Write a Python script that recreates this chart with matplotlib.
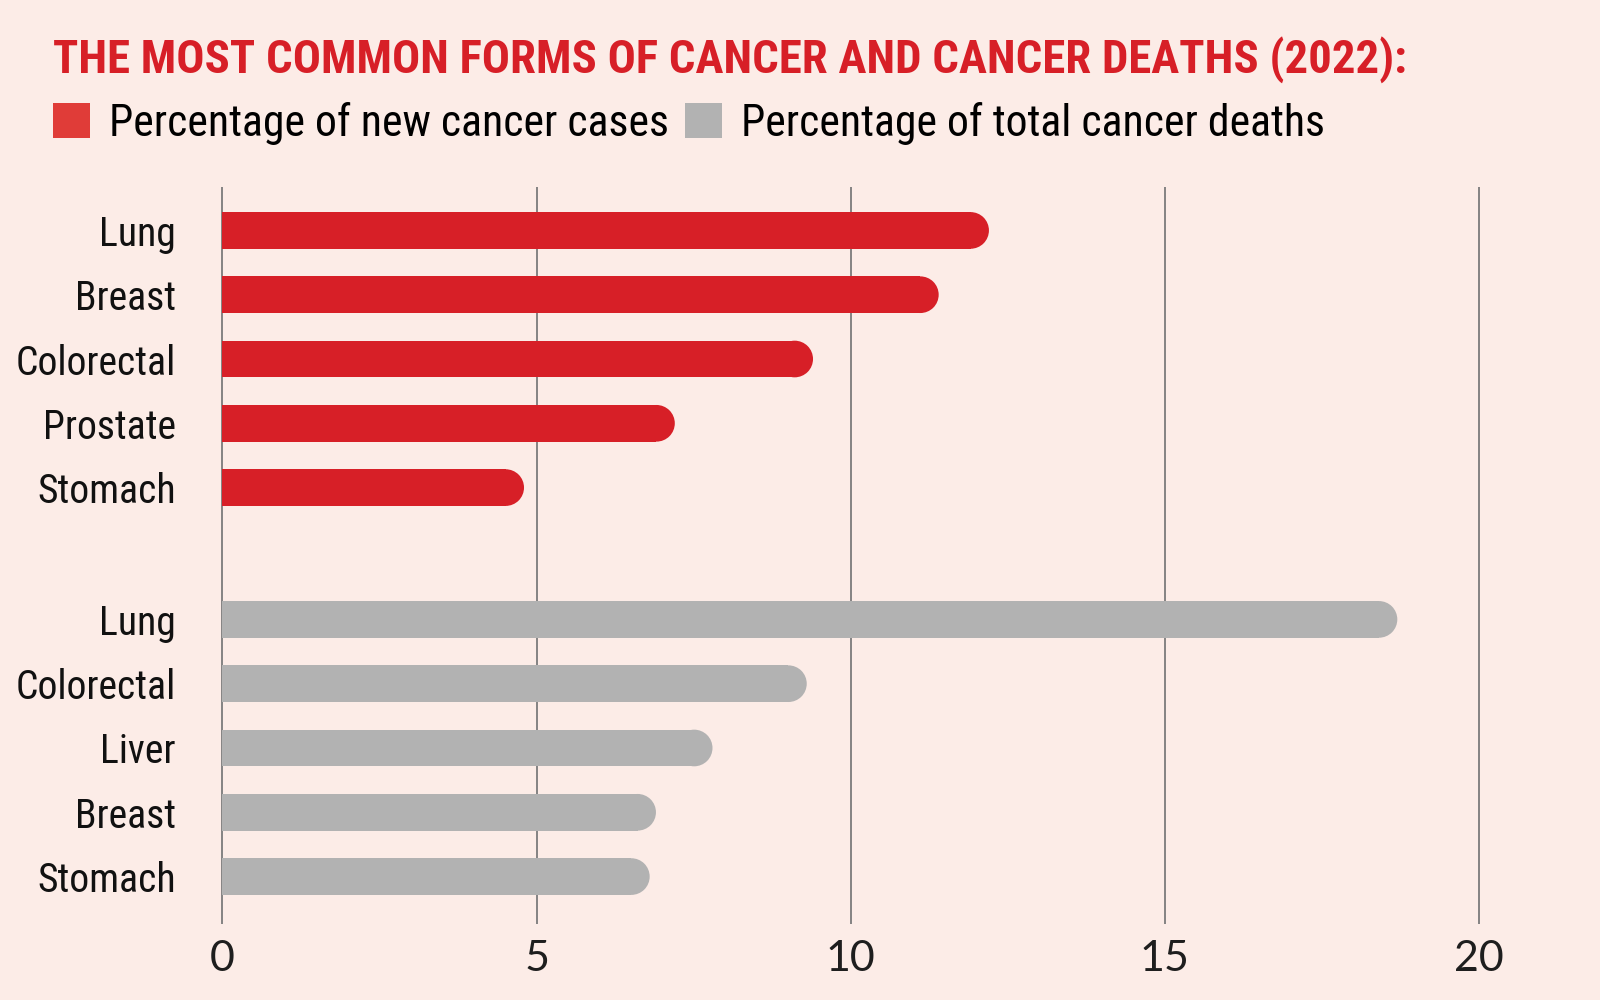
#!/usr/bin/env python3
"""Most common forms of cancer and cancer deaths (2022) - horizontal rounded bars."""

import os
import numpy as np
import matplotlib
matplotlib.use("Agg")
import matplotlib.pyplot as plt
from matplotlib import font_manager as fm
from matplotlib.patches import Ellipse, Patch

# --- data ---
CASES_LABELS = ["Lung", "Breast", "Colorectal", "Prostate", "Stomach"]
CASES_PCT = [12.2, 11.4, 9.4, 7.2, 4.8]

DEATHS_LABELS = ["Lung", "Colorectal", "Liver", "Breast", "Stomach"]
DEATHS_PCT = [18.7, 9.3, 7.8, 6.9, 6.8]

X_TICKS = [0, 5, 10, 15, 20]

TITLE = "THE MOST COMMON FORMS OF CANCER AND CANCER DEATHS (2022):"
LEGEND_LABELS = ["Percentage of new cancer cases", "Percentage of total cancer deaths"]

C_BG = "#fcece7"
C_RED = "#d71f27"
C_RED_LEG = "#e03c38"
C_GRAY = "#b2b2b2"
C_GRID = "#7b7b7b"


def pick_font(candidates, fallback_weight):
    """Use a narrow face if one is installed, else plain DejaVu Sans."""
    files = {os.path.basename(f.fname).lower(): f.fname for f in fm.fontManager.ttflist}
    for c in candidates:
        if c in files:
            return fm.FontProperties(fname=files[c])
    return fm.FontProperties(family="DejaVu Sans", weight=fallback_weight)


FP_REG = pick_font(
    ["notosans-extracondensed.ttf", "robotocondensed-regular.ttf",
     "notosans-condensed.ttf", "liberationsansnarrow-regular.ttf",
     "dejavusanscondensed.ttf"], "normal")
FP_BOLD = pick_font(
    ["notosans-extracondensedbold.ttf", "robotocondensed-bold.ttf",
     "notosans-condensedbold.ttf", "liberationsansnarrow-bold.ttf",
     "dejavusanscondensed-bold.ttf"], "bold")

fig = plt.figure(figsize=(16, 10), dpi=100, facecolor=C_BG)
renderer = fig.canvas.get_renderer()


def fit_size(text, fp, max_size, max_width_px):
    t = fig.text(0, 0, text, fontproperties=fp, fontsize=max_size)
    w = t.get_window_extent(renderer).width
    t.remove()
    return min(max_size, max_size * max_width_px / w)


title_size = fit_size(TITLE, FP_BOLD, 44, 1352)
leg_size = min(fit_size(LEGEND_LABELS[0], FP_REG, 37, 560),
               fit_size(LEGEND_LABELS[1], FP_REG, 37, 600))
lab_size = fit_size("Colorectal", FP_REG, 37, 160)

ax = fig.add_axes([0.1351, 0.0765, 0.9440 - 0.1351, 0.8133 - 0.0765])
ax.set_facecolor(C_BG)

y_cases = np.arange(len(CASES_PCT))
y_deaths = np.arange(len(DEATHS_PCT)) + len(CASES_PCT) + 1.05
ylim = (y_deaths[-1] + 0.73, -0.68)
xlim = (-0.1, 20.5)
ax.set_xlim(*xlim)
ax.set_ylim(*ylim)

bar_h = 0.57
# radius of the round end in x data units, so the end looks circular
ax_w_px = fig.get_figwidth() * fig.dpi * ax.get_position().width
ax_h_px = fig.get_figheight() * fig.dpi * ax.get_position().height
px_x = ax_w_px / (xlim[1] - xlim[0])
px_y = ax_h_px / (ylim[0] - ylim[1])
r_x = (bar_h / 2) * px_y / px_x


def rounded_bars(ys, vals, color):
    ax.barh(ys, np.array(vals) - r_x, height=bar_h, left=0, color=color,
            lw=0, zorder=3)
    for y, v in zip(ys, vals):
        ax.add_patch(Ellipse((v - r_x, y), 2 * r_x, bar_h, color=color,
                             lw=0, zorder=3))


rounded_bars(y_cases, CASES_PCT, C_RED)
rounded_bars(y_deaths, DEATHS_PCT, C_GRAY)

# vertical grid lines
for xt in X_TICKS:
    ax.axvline(xt, color=C_GRID, lw=1.3, zorder=1)

ax.set_xticks(X_TICKS)
ax.set_xticklabels([str(t) for t in X_TICKS], family=["Lato", "DejaVu Sans"],
                   fontsize=31, color="#1e1e1e")
ax.tick_params(axis="x", length=0, pad=12)

ax.set_yticks(list(y_cases) + list(y_deaths))
ax.set_yticklabels(CASES_LABELS + DEATHS_LABELS, fontproperties=FP_REG,
                   fontsize=lab_size, color="#111111")
ax.tick_params(axis="y", length=0, pad=29)

for s in ax.spines.values():
    s.set_visible(False)

fig.text(0.033, 0.927, TITLE, fontproperties=FP_BOLD, fontsize=title_size,
         color=C_RED, ha="left", va="baseline")

handles = [Patch(color=C_RED_LEG, lw=0), Patch(color=C_GRAY, lw=0)]
sq = 37 / (leg_size * fig.dpi / 72)   # legend squares ~37 px
leg_fp = FP_REG.copy()
leg_fp.set_size(leg_size)
fig.legend(handles, LEGEND_LABELS, loc="upper left",
           bbox_to_anchor=(0.033, 0.898), ncol=2, frameon=False,
           prop=leg_fp, handlelength=sq, handleheight=sq,
           handletextpad=0.45, columnspacing=0.35, borderaxespad=0,
           borderpad=0)

fig.savefig("out.png", dpi=100, facecolor=C_BG)
